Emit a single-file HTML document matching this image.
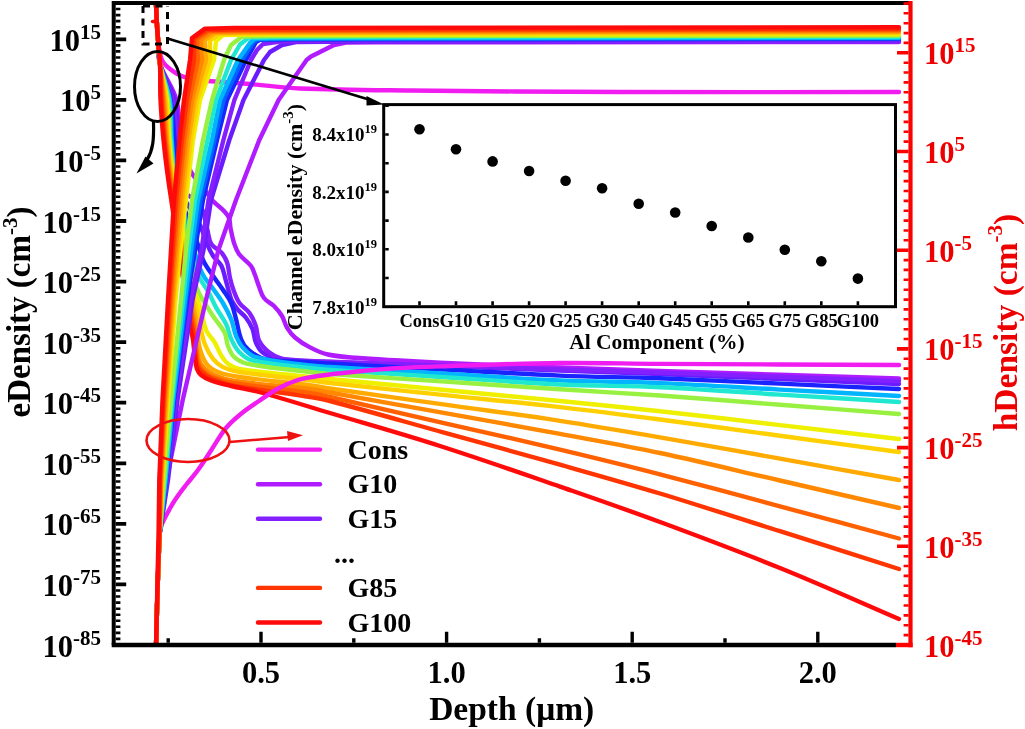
<!DOCTYPE html>
<html><head><meta charset="utf-8"><style>
html,body{margin:0;padding:0;background:#fff;}
body{width:1025px;height:729px;overflow:hidden;}
svg{display:block;}
</style></head><body>
<svg width="1025" height="729" viewBox="0 0 1025 729">
<defs><clipPath id="pc"><rect x="114" y="3" width="795" height="641"/></clipPath></defs>
<rect x="0" y="0" width="1025" height="729" fill="#fff"/>
<g clip-path="url(#pc)" fill="none" stroke-linecap="round" stroke-linejoin="round">
<path d="M156.0,4.0 C156.7,17.0 156.6,27.1 158.0,40.0 C158.8,47.3 159.2,53.2 162.0,60.0 C163.7,64.0 166.6,66.3 170.0,69.0 C173.7,72.1 177.0,74.1 181.5,76.0 C186.1,77.9 190.1,78.6 195.0,79.5 C199.6,80.4 203.3,80.6 208.0,81.0 C223.1,82.2 234.9,82.8 250.0,84.0 C268.0,85.5 281.9,87.8 300.0,88.5 C339.6,90.1 370.4,90.1 410.0,90.5 C485.6,91.3 544.4,91.8 620.0,92.0 C720.4,92.3 798.6,92.0 899.0,92.0" stroke="#f01cf0" stroke-width="4.4"/>
<path d="M156.0,4.0 C156.4,11.6 156.5,17.4 157.0,25.0 C157.4,32.2 157.9,37.8 158.5,45.0 C159.0,51.8 157.9,57.5 160.0,64.0 C164.4,77.5 172.8,86.2 176.5,100.0 C180.3,114.0 177.8,125.8 180.5,140.0 C182.6,151.1 185.0,159.8 190.0,170.0 C194.0,178.1 199.6,182.8 205.0,190.0 C207.9,193.9 209.7,197.4 213.0,201.0 C216.2,204.6 219.7,206.5 223.0,210.0 C225.5,212.6 227.6,214.7 229.0,218.0 C230.4,221.4 229.8,224.4 230.5,228.0 C231.6,233.4 232.3,237.7 234.0,243.0 C235.4,247.1 236.4,250.5 239.0,254.0 C242.6,258.9 247.3,261.1 251.0,266.0 C253.1,268.8 253.7,271.7 255.0,275.0 C256.6,279.1 257.4,282.4 259.0,286.5 C260.6,290.7 261.2,294.4 264.0,298.0 C266.8,301.7 270.7,302.7 274.0,306.0 C277.3,309.3 279.6,312.0 282.0,316.0 C284.3,319.9 284.6,323.7 287.0,327.6 C289.4,331.5 291.5,334.5 295.0,337.5 C299.9,341.7 304.2,344.4 310.0,347.4 C316.2,350.6 321.2,353.0 328.0,354.5 C337.9,356.7 345.9,357.0 356.0,357.8 C371.8,359.1 384.2,359.6 400.0,360.5 C428.8,362.1 451.2,363.2 480.0,364.5 C508.8,365.8 531.2,366.5 560.0,367.5 C596.0,368.8 624.0,369.8 660.0,371.0 C746.0,373.8 813.0,375.8 899.0,378.5" stroke="#b01cff" stroke-width="4.4"/>
<path d="M156.0,4.0 C156.4,11.6 156.5,17.4 157.0,25.0 C157.4,32.2 157.9,37.8 158.5,45.0 C159.0,51.8 158.1,57.4 160.0,64.0 C163.9,77.4 171.2,86.4 174.5,100.0 C177.9,114.1 177.8,125.5 178.5,140.0 C179.3,156.2 174.5,169.3 178.5,185.0 C182.5,200.8 192.9,210.3 200.0,225.0 C203.0,231.1 203.9,236.4 206.5,242.6 C208.6,247.4 210.2,251.3 213.0,255.7 C215.5,259.6 219.1,261.5 221.3,265.6 C223.7,270.0 224.0,274.0 225.4,278.8 C226.8,283.5 227.6,287.3 229.0,292.0 C230.0,295.3 230.5,297.9 232.0,301.0 C233.6,304.3 235.3,306.7 237.7,309.5 C240.4,312.7 243.5,314.3 246.0,317.7 C248.9,321.5 250.8,324.8 252.6,329.3 C254.4,333.8 253.9,337.9 255.8,342.4 C257.5,346.3 259.0,349.6 262.4,352.3 C266.5,355.5 270.5,357.0 275.6,358.0 C287.8,360.3 297.6,360.3 310.0,361.2 C317.2,361.7 322.8,361.7 330.0,362.0 C371.4,363.5 403.6,364.7 445.0,366.2 C486.4,367.8 518.6,369.0 560.0,370.5 C596.0,371.8 624.0,372.6 660.0,374.0 C703.2,375.7 736.8,377.2 780.0,379.0 C822.8,380.8 856.2,382.2 899.0,384.0" stroke="#6a1cff" stroke-width="4.4"/>
<path d="M156.0,4.0 C156.4,11.6 156.5,17.4 157.0,25.0 C157.4,32.2 157.9,37.8 158.5,45.0 C159.0,51.8 158.3,57.4 160.0,64.0 C163.4,77.3 169.6,86.6 172.5,100.0 C175.6,114.1 175.5,125.6 176.5,140.0 C177.6,156.2 172.7,169.8 178.2,185.0 C181.8,195.0 194.2,196.1 200.0,205.0 C205.0,212.7 204.7,220.6 207.3,229.4 C208.8,234.7 208.5,239.5 211.4,244.2 C213.8,248.2 218.3,248.9 221.3,252.4 C224.0,255.5 225.7,258.4 227.0,262.3 C228.9,267.7 228.7,272.4 230.0,278.0 C231.0,282.4 231.9,285.8 233.5,290.0 C235.3,294.8 236.5,298.8 239.4,303.0 C242.3,307.1 246.4,308.7 249.3,312.8 C252.4,317.1 254.1,321.0 255.8,326.0 C257.6,331.2 256.7,335.9 259.1,340.8 C261.6,345.7 264.7,348.9 269.0,352.3 C273.2,355.6 277.0,357.8 282.2,358.9 C292.0,361.0 300.0,360.4 310.0,361.0 C317.2,361.4 322.8,361.6 330.0,361.8 C371.4,363.2 403.6,364.3 445.0,365.6 C486.4,367.0 518.6,368.2 560.0,369.5 C596.0,370.6 624.0,371.3 660.0,372.5 C703.2,373.9 736.8,375.2 780.0,376.8 C822.8,378.3 856.2,379.5 899.0,381.0" stroke="#8420ff" stroke-width="4.4"/>
<path d="M156.0,4.0 C156.4,11.6 156.5,17.4 157.0,25.0 C157.4,32.2 157.9,37.8 158.5,45.0 C159.0,51.8 158.5,57.3 160.0,64.0 C162.9,77.2 168.0,86.7 170.5,100.0 C173.2,114.2 173.3,125.6 174.5,140.0 C175.8,156.2 173.8,169.2 177.3,185.0 C182.3,207.3 190.5,223.4 198.0,245.0 C200.1,251.1 201.1,256.2 204.0,262.0 C207.1,268.2 210.8,272.4 214.7,278.2 C217.6,282.4 220.1,285.5 222.9,289.8 C226.0,294.5 228.9,297.9 231.2,303.0 C233.7,308.6 234.5,313.5 236.1,319.4 C238.0,326.4 238.4,332.2 241.0,339.0 C242.6,343.0 244.3,346.2 247.6,349.0 C252.8,353.5 257.3,357.5 264.0,358.9 C280.2,362.3 293.4,361.0 310.0,362.2 C317.2,362.7 322.8,363.1 330.0,363.5 C371.4,365.8 403.6,367.4 445.0,369.6 C486.4,371.7 518.6,373.9 560.0,375.6 C596.0,377.1 624.0,377.0 660.0,378.3 C703.2,379.9 736.8,381.7 780.0,383.6 C822.8,385.6 856.2,387.1 899.0,389.0" stroke="#1a24ff" stroke-width="4.4"/>
<path d="M156.0,4.0 C156.4,11.6 156.5,17.4 157.0,25.0 C157.4,32.2 157.9,37.8 158.5,45.0 C159.0,51.8 158.6,57.3 160.0,64.0 C162.7,77.2 167.8,86.7 169.9,100.0 C172.1,114.2 170.6,125.6 171.8,140.0 C173.0,156.2 173.1,169.1 176.5,185.0 C182.3,212.4 189.1,233.1 197.0,260.0 C198.6,265.6 200.2,269.9 203.0,275.0 C205.4,279.5 208.4,282.3 211.4,286.5 C215.6,292.4 219.2,296.8 222.9,303.0 C226.3,308.7 228.7,313.3 231.2,319.4 C233.5,325.1 233.7,330.1 236.0,335.8 C237.8,340.3 239.4,343.9 242.7,347.4 C246.7,351.7 250.1,355.7 255.8,357.2 C274.9,362.3 290.4,362.9 310.0,365.5 C317.2,366.4 322.8,366.6 330.0,367.0 C371.4,369.5 403.6,371.3 445.0,373.7 C486.4,376.1 518.6,378.6 560.0,380.4 C596.0,382.0 624.0,381.6 660.0,383.1 C703.2,384.9 736.8,387.2 780.0,389.6 C822.8,391.9 856.2,393.7 899.0,396.0" stroke="#00b4ff" stroke-width="4.4"/>
<path d="M156.0,4.0 C156.4,11.6 156.5,17.4 157.0,25.0 C157.4,32.2 157.9,37.8 158.5,45.0 C159.0,51.8 158.7,57.3 160.0,64.0 C162.5,77.1 167.0,86.8 168.8,100.0 C170.9,114.3 169.7,125.6 170.8,140.0 C172.1,156.2 172.6,169.0 175.7,185.0 C181.6,215.9 187.8,239.6 196.0,270.0 C197.3,274.7 199.6,277.8 202.0,282.0 C204.0,285.5 206.2,287.9 208.1,291.4 C211.3,297.2 213.1,302.1 216.3,307.9 C219.6,313.9 223.2,318.1 226.2,324.3 C228.6,329.4 228.8,334.0 231.2,339.1 C233.6,344.2 235.4,348.3 239.4,352.3 C243.4,356.3 247.1,359.3 252.6,360.5 C272.9,365.0 289.3,365.5 310.0,368.0 C317.2,368.9 322.8,369.5 330.0,370.0 C371.4,372.8 403.6,374.6 445.0,377.2 C486.4,379.9 518.6,382.6 560.0,384.5 C596.0,386.2 624.0,385.5 660.0,387.2 C703.2,389.2 736.8,391.9 780.0,394.6 C822.8,397.3 856.2,399.3 899.0,402.0" stroke="#20e8d0" stroke-width="4.4"/>
<path d="M156.0,4.0 C156.4,11.6 156.5,17.4 157.0,25.0 C157.4,32.2 157.9,37.8 158.5,45.0 C159.0,51.8 158.9,57.2 160.0,64.0 C162.2,77.1 166.1,86.9 167.8,100.0 C169.7,114.3 168.7,125.6 169.9,140.0 C171.3,156.2 172.0,168.9 174.8,185.0 C181.1,220.5 187.0,247.9 195.0,283.0 C196.0,287.6 197.9,290.8 200.0,295.0 C201.5,298.0 203.0,300.1 204.8,303.0 C207.7,307.7 209.9,311.4 213.0,316.0 C217.1,322.1 221.3,326.1 224.6,332.6 C226.8,336.9 226.1,341.2 227.9,345.7 C229.7,350.1 230.9,354.0 234.4,357.2 C238.3,360.8 242.4,362.8 247.6,363.8 C269.8,368.2 287.5,369.2 310.0,372.0 C317.2,372.9 322.8,373.5 330.0,374.0 C371.4,377.0 403.6,378.9 445.0,381.6 C486.4,384.4 518.6,386.6 560.0,389.3 C596.0,391.6 624.0,393.0 660.0,395.5 C703.2,398.5 736.8,401.4 780.0,404.8 C822.8,408.1 856.2,410.7 899.0,414.0" stroke="#98f040" stroke-width="4.4"/>
<path d="M156.0,4.0 C156.4,11.6 156.5,17.4 157.0,25.0 C157.4,32.2 157.9,37.8 158.5,45.0 C159.0,51.8 159.0,57.2 160.0,64.0 C162.0,77.0 165.2,86.9 166.8,100.0 C168.4,114.3 167.8,125.6 169.0,140.0 C170.4,156.2 171.3,168.9 174.0,185.0 C180.3,223.0 186.1,252.3 194.0,290.0 C194.8,293.8 196.8,296.3 198.0,300.0 C199.5,304.5 200.2,308.2 201.5,312.8 C203.3,319.3 203.7,324.7 206.5,330.9 C208.6,335.5 212.1,338.0 214.7,342.4 C217.4,347.0 218.5,351.1 221.3,355.6 C223.3,358.8 224.8,361.6 227.9,363.8 C231.5,366.5 234.9,368.1 239.4,368.8 C264.7,372.9 284.6,374.1 310.0,377.0 C317.2,377.8 322.8,378.3 330.0,379.0 C371.4,383.0 403.6,386.0 445.0,390.0 C486.4,394.0 518.6,396.9 560.0,401.0 C596.0,404.6 624.0,407.3 660.0,411.2 C703.2,415.9 736.8,420.1 780.0,425.1 C822.8,430.1 856.2,434.0 899.0,439.0" stroke="#eef000" stroke-width="4.4"/>
<path d="M156.0,4.0 C156.4,11.6 156.5,17.4 157.0,25.0 C157.4,32.2 157.9,37.8 158.5,45.0 C159.0,51.8 159.1,57.2 160.0,64.0 C161.7,77.0 164.3,87.0 165.7,100.0 C167.2,114.3 166.8,125.6 168.1,140.0 C169.5,156.2 170.6,168.9 173.2,185.0 C179.9,226.5 186.1,258.7 194.0,300.0 C194.7,303.7 196.1,306.3 197.0,310.0 C198.2,315.1 198.7,319.2 199.9,324.3 C201.5,331.4 202.2,337.2 204.8,344.0 C207.0,349.7 209.2,354.1 213.0,358.9 C215.9,362.5 218.8,365.0 222.9,367.1 C228.5,369.9 233.3,371.1 239.4,372.0 C264.7,375.8 284.6,377.2 310.0,380.3 C317.2,381.2 322.8,382.2 330.0,383.0 C371.4,387.5 403.6,390.7 445.0,395.1 C486.4,399.4 518.6,402.4 560.0,407.1 C596.0,411.2 624.0,414.8 660.0,419.5 C703.2,425.1 736.8,429.9 780.0,435.8 C822.8,441.6 856.2,446.1 899.0,452.0" stroke="#ffd000" stroke-width="4.4"/>
<path d="M156.0,4.0 C156.4,11.6 156.5,17.4 157.0,25.0 C157.4,32.2 157.9,37.8 158.5,45.0 C159.0,51.8 159.2,57.2 160.0,64.0 C161.5,77.0 163.4,87.0 164.7,100.0 C166.0,114.4 165.9,125.6 167.2,140.0 C168.6,156.2 169.8,168.9 172.3,185.0 C179.5,230.1 186.1,265.0 194.0,310.0 C194.6,313.6 195.5,316.4 196.0,320.0 C196.7,324.5 196.8,328.1 197.4,332.6 C198.2,338.5 198.2,343.3 199.9,349.0 C201.5,354.6 202.9,359.2 206.5,363.8 C209.6,367.8 213.3,370.1 218.0,372.0 C225.3,374.9 231.6,375.9 239.4,377.0 C264.7,380.6 284.6,382.0 310.0,385.2 C317.2,386.1 322.8,387.5 330.0,388.5 C371.4,394.5 403.6,398.8 445.0,404.6 C486.4,410.5 518.7,414.5 560.0,420.8 C596.1,426.3 624.0,431.1 660.0,437.3 C703.2,444.7 736.8,450.9 780.0,458.6 C822.8,466.3 856.2,472.3 899.0,480.0" stroke="#ffaa00" stroke-width="4.4"/>
<path d="M156.0,4.0 C156.4,11.6 156.5,17.4 157.0,25.0 C157.4,32.2 157.9,37.8 158.5,45.0 C159.0,51.8 159.4,57.2 160.0,64.0 C161.2,77.0 162.6,87.0 163.6,100.0 C164.8,114.4 164.9,125.6 166.2,140.0 C167.8,156.2 169.0,168.9 171.5,185.0 C178.7,231.9 185.1,268.2 193.0,315.0 C193.6,318.6 194.6,321.4 195.0,325.0 C195.8,332.2 195.7,337.8 196.5,345.0 C197.1,350.4 197.3,354.8 199.0,360.0 C200.1,363.2 201.6,365.6 204.0,368.0 C207.1,371.1 209.9,373.3 214.0,375.0 C221.3,378.0 227.2,379.9 235.0,381.0 C261.9,384.9 283.0,385.7 310.0,389.0 C317.3,389.9 322.8,391.2 330.0,392.5 C371.4,399.9 403.6,405.7 445.0,413.2 C486.4,420.7 518.6,426.2 560.0,433.9 C596.0,440.6 624.1,445.4 660.0,453.0 C703.4,462.2 736.8,470.6 780.0,480.5 C822.8,490.4 856.2,498.1 899.0,508.0" stroke="#ff8800" stroke-width="4.4"/>
<path d="M156.0,4.0 C156.4,11.6 156.5,17.4 157.0,25.0 C157.4,32.2 157.9,37.8 158.5,45.0 C159.0,51.8 159.5,57.2 160.0,64.0 C161.0,77.0 161.7,87.0 162.6,100.0 C163.6,114.4 164.0,125.6 165.3,140.0 C166.9,156.2 168.2,168.9 170.7,185.0 C178.0,233.7 184.5,271.4 192.5,320.0 C193.1,323.6 194.1,326.4 194.5,330.0 C195.3,337.2 195.2,342.8 196.0,350.0 C196.5,354.7 196.6,358.5 198.0,363.0 C199.0,366.0 200.3,368.3 202.5,370.5 C205.4,373.4 208.2,375.4 212.0,377.0 C219.3,380.0 225.2,381.7 233.0,383.0 C260.6,387.5 282.3,389.0 310.0,393.0 C317.3,394.0 322.8,395.4 330.0,397.0 C371.4,406.3 403.6,413.8 445.0,423.3 C486.4,432.8 518.7,439.8 560.0,449.6 C596.1,458.2 624.1,465.0 660.0,474.3 C703.3,485.5 736.8,494.8 780.0,506.4 C822.9,517.9 856.2,526.9 899.0,538.5" stroke="#ff6000" stroke-width="4.4"/>
<path d="M156.0,4.0 C156.4,11.6 156.5,17.4 157.0,25.0 C157.4,32.2 157.9,37.8 158.5,45.0 C159.0,51.8 159.6,57.1 160.0,64.0 C160.7,77.0 160.8,87.0 161.5,100.0 C162.4,114.4 163.0,125.6 164.4,140.0 C166.0,156.2 167.4,168.9 169.8,185.0 C177.4,235.5 183.9,274.6 192.0,325.0 C192.6,328.6 193.6,331.4 194.0,335.0 C194.8,342.2 194.7,347.8 195.5,355.0 C196.0,359.0 196.2,362.2 197.5,366.0 C198.4,368.4 199.6,370.3 201.5,372.0 C204.7,374.9 207.5,376.9 211.4,378.6 C218.3,381.7 223.8,383.8 231.2,385.2 C259.4,390.5 281.7,392.5 310.0,397.0 C317.3,398.2 322.9,399.1 330.0,401.0 C371.5,412.0 403.6,421.4 445.0,432.9 C486.4,444.3 518.7,453.0 560.0,464.7 C596.1,474.9 624.1,482.7 660.0,493.5 C703.3,506.6 736.8,517.6 780.0,531.2 C822.9,544.8 856.2,555.4 899.0,569.0" stroke="#ff3400" stroke-width="4.4"/>
<path d="M156.0,4.0 C156.4,11.6 156.5,17.4 157.0,25.0 C157.4,32.2 157.9,37.8 158.5,45.0 C159.0,51.8 159.8,57.1 160.0,64.0 C160.5,77.0 159.9,87.1 160.5,100.0 C161.2,114.4 162.1,125.6 163.5,140.0 C165.1,156.2 166.7,168.8 169.0,185.0 C176.6,237.3 182.9,277.8 191.0,330.0 C191.6,333.6 192.5,336.4 193.0,340.0 C193.9,346.5 194.1,351.5 195.0,358.0 C195.5,362.0 195.7,365.2 197.0,369.0 C197.9,371.4 199.0,373.4 201.0,375.0 C204.2,377.6 207.1,379.1 211.0,380.5 C218.0,383.1 223.7,384.3 231.0,386.0 C241.0,388.4 249.1,389.3 259.0,392.0 C284.7,399.0 304.5,405.4 330.0,413.0 C369.6,424.8 400.6,433.4 440.0,446.0 C483.4,459.9 516.9,471.7 560.0,486.6 C596.1,499.1 624.2,508.7 660.0,522.0 C703.4,538.1 737.1,550.6 780.0,568.0 C823.2,585.5 856.2,600.6 899.0,619.0" stroke="#ff0a0a" stroke-width="4.4"/>
<path d="M152.5,21.5 L156.5,21.5" stroke="#ff0a0a" stroke-width="3.5"/>
</g>
<g clip-path="url(#pc)" fill="none" stroke-linecap="round" stroke-linejoin="round">
<path d="M156.0,648.0 C156.5,627.1 156.9,610.9 157.5,590.0 C158.1,570.2 158.2,554.8 159.5,535.0 C159.8,530.9 160.6,527.8 162.0,524.0 C163.7,519.5 165.7,516.2 168.0,512.0 C170.4,507.6 172.2,504.2 175.0,500.0 C178.7,494.4 181.9,490.3 186.0,485.0 C190.2,479.5 194.0,475.6 198.0,470.0 C203.3,462.6 207.0,456.6 212.0,449.0 C217.0,441.4 220.2,435.0 226.0,428.0 C231.1,421.9 235.9,418.0 242.0,413.0 C247.8,408.3 252.8,405.2 259.0,401.0 C266.1,396.2 271.4,392.1 279.0,388.0 C285.5,384.5 290.9,382.2 298.0,380.0 C305.0,377.8 310.7,377.0 318.0,376.0 C332.0,374.0 342.9,372.9 357.0,371.5 C372.5,370.0 384.5,368.9 400.0,368.0 C418.0,366.9 432.0,366.6 450.0,366.0 C489.6,364.8 520.4,363.4 560.0,363.0 C596.0,362.6 624.0,363.7 660.0,363.9 C746.0,364.4 813.0,364.6 899.0,365.0" stroke="#f01cf0" stroke-width="4.4"/>
<path d="M156.0,648.0 L157.5,590.0 L159.5,535.0 L166.5,480.0 L182.7,400.0 L206.0,300.0 L218.4,250.0 L236.0,200.0 L259.3,140.0 L278.6,100.0 L306.6,60.0 L311.0,56.5 L334.0,45.0 L346.0,42.6 L376.0,42.3 L899.0,42.0" stroke="#b01cff" stroke-width="4.4"/>
<path d="M156.0,648.0 L157.5,590.0 L159.5,535.0 L168.0,480.0 L177.5,400.0 L192.5,300.0 L203.5,250.0 L211.0,200.0 L229.3,140.0 L243.5,100.0 L264.0,60.0 L270.0,52.0 L282.0,45.0 L296.0,42.1 L326.0,41.7 L899.0,41.2" stroke="#6a1cff" stroke-width="4.4"/>
<path d="M156.0,648.0 L157.5,590.0 L159.5,535.0 L167.0,480.0 L176.0,400.0 L190.5,300.0 L201.5,250.0 L208.5,200.0 L223.4,140.0 L234.4,100.0 L251.0,60.0 L257.0,50.0 L263.0,44.0 L280.0,41.6 L310.0,41.1 L899.0,40.6" stroke="#8420ff" stroke-width="4.4"/>
<path d="M156.0,648.0 L157.5,590.0 L159.5,535.0 L166.0,480.0 L174.0,400.0 L187.2,300.0 L195.0,250.0 L203.0,200.0 L217.0,140.0 L227.0,100.0 L246.0,60.0 L256.0,42.0 L260.0,39.8 L290.0,39.4 L899.0,39.0" stroke="#1a24ff" stroke-width="4.4"/>
<path d="M156.0,648.0 L157.5,590.0 L159.5,535.0 L165.8,480.0 L173.5,400.0 L186.1,300.0 L193.0,250.0 L200.5,200.0 L214.5,140.0 L223.5,100.0 L242.0,60.0 L253.0,42.5 L257.5,39.2 L287.5,38.8 L899.0,38.4" stroke="#0064ff" stroke-width="4.4"/>
<path d="M156.0,648.0 L157.5,590.0 L159.5,535.0 L165.5,480.0 L173.0,400.0 L185.0,300.0 L191.0,250.0 L198.0,200.0 L212.0,140.0 L220.0,100.0 L238.0,60.0 L250.0,43.0 L255.0,38.5 L285.0,38.1 L899.0,37.8" stroke="#00b4ff" stroke-width="4.4"/>
<path d="M156.0,648.0 L157.5,590.0 L159.5,535.0 L164.8,480.0 L172.0,400.0 L183.0,300.0 L188.5,250.0 L195.0,200.0 L207.5,140.0 L216.0,100.0 L231.0,60.0 L240.0,44.5 L249.0,37.5 L279.0,37.1 L899.0,36.8" stroke="#20e8d0" stroke-width="4.4"/>
<path d="M156.0,648.0 L157.5,590.0 L159.5,535.0 L164.0,480.0 L171.0,400.0 L181.0,300.0 L186.0,250.0 L192.0,200.0 L203.0,140.0 L212.0,100.0 L224.0,60.0 L231.0,45.0 L242.0,36.5 L272.0,36.0 L899.0,35.6" stroke="#98f040" stroke-width="4.4"/>
<path d="M156.0,648.0 L157.5,590.0 L159.5,535.0 L162.5,480.0 L168.0,400.0 L175.5,300.0 L180.4,250.0 L186.0,200.0 L193.0,140.0 L200.0,100.0 L214.0,60.0 L216.0,41.0 L223.0,35.0 L253.0,34.6 L899.0,34.2" stroke="#eef000" stroke-width="4.4"/>
<path d="M156.0,648.0 L157.5,590.0 L159.5,535.0 L162.0,480.0 L167.1,400.0 L174.2,300.0 L178.8,250.0 L184.0,200.0 L190.8,140.0 L197.3,100.0 L210.0,60.0 L210.0,40.5 L219.0,34.0 L249.0,33.5 L899.0,33.0" stroke="#ffd000" stroke-width="4.4"/>
<path d="M156.0,648.0 L157.5,590.0 L159.5,535.0 L161.4,480.0 L166.2,400.0 L173.0,300.0 L177.3,250.0 L182.0,200.0 L188.5,140.0 L194.7,100.0 L206.0,60.0 L205.0,40.0 L215.0,33.0 L245.0,32.5 L899.0,32.0" stroke="#ffaa00" stroke-width="4.4"/>
<path d="M156.0,648.0 L157.5,590.0 L159.5,535.0 L160.9,480.0 L165.2,400.0 L171.8,300.0 L175.7,250.0 L180.0,200.0 L186.2,140.0 L192.0,100.0 L202.0,60.0 L201.0,39.5 L212.0,32.0 L242.0,31.5 L899.0,31.0" stroke="#ff8800" stroke-width="4.4"/>
<path d="M156.0,648.0 L157.5,590.0 L159.5,535.0 L160.4,480.0 L164.3,400.0 L170.5,300.0 L174.1,250.0 L178.0,200.0 L184.0,140.0 L189.3,100.0 L198.0,60.0 L197.0,39.0 L209.0,31.0 L239.0,30.5 L899.0,30.0" stroke="#ff6000" stroke-width="4.4"/>
<path d="M156.0,648.0 L157.5,590.0 L159.5,535.0 L159.8,480.0 L163.4,400.0 L169.2,300.0 L172.6,250.0 L176.0,200.0 L181.8,140.0 L186.7,100.0 L194.0,60.0 L194.0,38.5 L207.0,30.0 L237.0,29.5 L899.0,29.0" stroke="#ff3400" stroke-width="4.4"/>
<path d="M156.0,648.0 L158.6,530.0 L159.3,480.0 L162.5,400.0 L168.0,300.0 L171.0,250.0 L174.0,200.0 L179.5,140.0 L184.0,100.0 L190.0,60.0 L192.0,38.0 L205.0,28.6 L235.0,27.9 L899.0,27.2" stroke="#ff0a0a" stroke-width="4.4"/>
</g>
<g fill="none" stroke-linecap="butt">
<path d="M113.7,645 L113.7,3 L910.5,3" stroke="#000" stroke-width="4"/>
<path d="M111.7,645 L896,645" stroke="#000" stroke-width="4.4"/>
<path d="M910.5,1 L910.5,647.2" stroke="#ff0000" stroke-width="4.2"/>
<path d="M896,645 L912.6,645" stroke="#ff0000" stroke-width="4.4"/>
<path d="M115.7,638.9 L120.4,638.9 M115.7,632.9 L120.4,632.9 M115.7,626.8 L120.4,626.8 M115.7,620.8 L120.4,620.8 M115.7,614.7 L120.4,614.7 M115.7,608.7 L120.4,608.7 M115.7,602.6 L120.4,602.6 M115.7,596.5 L120.4,596.5 M115.7,590.5 L120.4,590.5 M115.7,578.4 L120.4,578.4 M115.7,572.3 L120.4,572.3 M115.7,566.3 L120.4,566.3 M115.7,560.2 L120.4,560.2 M115.7,554.1 L120.4,554.1 M115.7,548.1 L120.4,548.1 M115.7,542.0 L120.4,542.0 M115.7,536.0 L120.4,536.0 M115.7,529.9 L120.4,529.9 M115.7,517.8 L120.4,517.8 M115.7,511.7 L120.4,511.7 M115.7,505.7 L120.4,505.7 M115.7,499.6 L120.4,499.6 M115.7,493.6 L120.4,493.6 M115.7,487.5 L120.4,487.5 M115.7,481.5 L120.4,481.5 M115.7,475.4 L120.4,475.4 M115.7,469.3 L120.4,469.3 M115.7,457.2 L120.4,457.2 M115.7,451.2 L120.4,451.2 M115.7,445.1 L120.4,445.1 M115.7,439.1 L120.4,439.1 M115.7,433.0 L120.4,433.0 M115.7,426.9 L120.4,426.9 M115.7,420.9 L120.4,420.9 M115.7,414.8 L120.4,414.8 M115.7,408.8 L120.4,408.8 M115.7,396.7 L120.4,396.7 M115.7,390.6 L120.4,390.6 M115.7,384.5 L120.4,384.5 M115.7,378.5 L120.4,378.5 M115.7,372.4 L120.4,372.4 M115.7,366.4 L120.4,366.4 M115.7,360.3 L120.4,360.3 M115.7,354.3 L120.4,354.3 M115.7,348.2 L120.4,348.2 M115.7,336.1 L120.4,336.1 M115.7,330.0 L120.4,330.0 M115.7,324.0 L120.4,324.0 M115.7,317.9 L120.4,317.9 M115.7,311.9 L120.4,311.9 M115.7,305.8 L120.4,305.8 M115.7,299.8 L120.4,299.8 M115.7,293.7 L120.4,293.7 M115.7,287.6 L120.4,287.6 M115.7,275.5 L120.4,275.5 M115.7,269.5 L120.4,269.5 M115.7,263.4 L120.4,263.4 M115.7,257.4 L120.4,257.4 M115.7,251.3 L120.4,251.3 M115.7,245.2 L120.4,245.2 M115.7,239.2 L120.4,239.2 M115.7,233.1 L120.4,233.1 M115.7,227.1 L120.4,227.1 M115.7,215.0 L120.4,215.0 M115.7,208.9 L120.4,208.9 M115.7,202.8 L120.4,202.8 M115.7,196.8 L120.4,196.8 M115.7,190.7 L120.4,190.7 M115.7,184.7 L120.4,184.7 M115.7,178.6 L120.4,178.6 M115.7,172.6 L120.4,172.6 M115.7,166.5 L120.4,166.5 M115.7,154.4 L120.4,154.4 M115.7,148.3 L120.4,148.3 M115.7,142.3 L120.4,142.3 M115.7,136.2 L120.4,136.2 M115.7,130.2 L120.4,130.2 M115.7,124.1 L120.4,124.1 M115.7,118.0 L120.4,118.0 M115.7,112.0 L120.4,112.0 M115.7,105.9 L120.4,105.9 M115.7,93.8 L120.4,93.8 M115.7,87.8 L120.4,87.8 M115.7,81.7 L120.4,81.7 M115.7,75.6 L120.4,75.6 M115.7,69.6 L120.4,69.6 M115.7,63.5 L120.4,63.5 M115.7,57.5 L120.4,57.5 M115.7,51.4 L120.4,51.4 M115.7,45.4 L120.4,45.4 M115.7,33.2 L120.4,33.2 M115.7,27.2 L120.4,27.2 M115.7,21.1 L120.4,21.1 M115.7,15.1 L120.4,15.1 M115.7,9.0 L120.4,9.0" stroke="#000" stroke-width="2.6"/>
<path d="M115.7,584.4 L126.2,584.4 M115.7,523.9 L126.2,523.9 M115.7,463.3 L126.2,463.3 M115.7,402.7 L126.2,402.7 M115.7,342.1 L126.2,342.1 M115.7,281.6 L126.2,281.6 M115.7,221.0 L126.2,221.0 M115.7,160.4 L126.2,160.4 M115.7,99.9 L126.2,99.9 M115.7,39.3 L126.2,39.3" stroke="#000" stroke-width="3.8"/>
<path d="M908.5,635.1 L903.6,635.1 M908.5,625.3 L903.6,625.3 M908.5,615.4 L903.6,615.4 M908.5,605.5 L903.6,605.5 M908.5,595.6 L903.6,595.6 M908.5,585.8 L903.6,585.8 M908.5,575.9 L903.6,575.9 M908.5,566.0 L903.6,566.0 M908.5,556.2 L903.6,556.2 M908.5,536.4 L903.6,536.4 M908.5,526.6 L903.6,526.6 M908.5,516.7 L903.6,516.7 M908.5,506.8 L903.6,506.8 M908.5,497.0 L903.6,497.0 M908.5,487.1 L903.6,487.1 M908.5,477.2 L903.6,477.2 M908.5,467.3 L903.6,467.3 M908.5,457.5 L903.6,457.5 M908.5,437.7 L903.6,437.7 M908.5,427.9 L903.6,427.9 M908.5,418.0 L903.6,418.0 M908.5,408.1 L903.6,408.1 M908.5,398.2 L903.6,398.2 M908.5,388.4 L903.6,388.4 M908.5,378.5 L903.6,378.5 M908.5,368.6 L903.6,368.6 M908.5,358.8 L903.6,358.8 M908.5,339.0 L903.6,339.0 M908.5,329.2 L903.6,329.2 M908.5,319.3 L903.6,319.3 M908.5,309.4 L903.6,309.4 M908.5,299.6 L903.6,299.6 M908.5,289.7 L903.6,289.7 M908.5,279.8 L903.6,279.8 M908.5,269.9 L903.6,269.9 M908.5,260.1 L903.6,260.1 M908.5,240.3 L903.6,240.3 M908.5,230.5 L903.6,230.5 M908.5,220.6 L903.6,220.6 M908.5,210.7 L903.6,210.7 M908.5,200.9 L903.6,200.9 M908.5,191.0 L903.6,191.0 M908.5,181.1 L903.6,181.1 M908.5,171.2 L903.6,171.2 M908.5,161.4 L903.6,161.4 M908.5,141.6 L903.6,141.6 M908.5,131.8 L903.6,131.8 M908.5,121.9 L903.6,121.9 M908.5,112.0 L903.6,112.0 M908.5,102.2 L903.6,102.2 M908.5,92.3 L903.6,92.3 M908.5,82.4 L903.6,82.4 M908.5,72.5 L903.6,72.5 M908.5,62.7 L903.6,62.7 M908.5,42.9 L903.6,42.9 M908.5,33.1 L903.6,33.1 M908.5,23.2 L903.6,23.2 M908.5,13.3 L903.6,13.3 M908.5,3.5 L903.6,3.5" stroke="#ff0000" stroke-width="2.6"/>
<path d="M908.5,546.3 L897,546.3 M908.5,447.6 L897,447.6 M908.5,348.9 L897,348.9 M908.5,250.2 L897,250.2 M908.5,151.5 L897,151.5 M908.5,52.8 L897,52.8" stroke="#ff0000" stroke-width="3.6"/>
<path d="M168.2,642.8 L168.2,638.3 M261.0,642.8 L261.0,631.8 M353.8,642.8 L353.8,638.3 M446.6,642.8 L446.6,631.8 M539.4,642.8 L539.4,638.3 M632.2,642.8 L632.2,631.8 M725.0,642.8 L725.0,638.3 M817.8,642.8 L817.8,631.8" stroke="#000" stroke-width="3.4"/>
</g>
<g font-family="'Liberation Serif','Times New Roman',serif" font-weight="bold">
<text x="101" y="656.5" text-anchor="end" font-size="30.5">10<tspan font-size="21" dy="-12">-85</tspan></text>
<text x="101" y="595.9" text-anchor="end" font-size="30.5">10<tspan font-size="21" dy="-12">-75</tspan></text>
<text x="101" y="535.4" text-anchor="end" font-size="30.5">10<tspan font-size="21" dy="-12">-65</tspan></text>
<text x="101" y="474.8" text-anchor="end" font-size="30.5">10<tspan font-size="21" dy="-12">-55</tspan></text>
<text x="101" y="414.2" text-anchor="end" font-size="30.5">10<tspan font-size="21" dy="-12">-45</tspan></text>
<text x="101" y="353.6" text-anchor="end" font-size="30.5">10<tspan font-size="21" dy="-12">-35</tspan></text>
<text x="101" y="293.1" text-anchor="end" font-size="30.5">10<tspan font-size="21" dy="-12">-25</tspan></text>
<text x="101" y="232.5" text-anchor="end" font-size="30.5">10<tspan font-size="21" dy="-12">-15</tspan></text>
<text x="101" y="171.9" text-anchor="end" font-size="30.5">10<tspan font-size="21" dy="-12">-5</tspan></text>
<text x="101" y="111.4" text-anchor="end" font-size="30.5">10<tspan font-size="21" dy="-12">5</tspan></text>
<text x="101" y="50.8" text-anchor="end" font-size="30.5">10<tspan font-size="21" dy="-12">15</tspan></text>
<text x="924" y="656.5" fill="#ee0000" font-size="30.5">10<tspan font-size="21" dy="-12">-45</tspan></text>
<text x="924" y="557.8" fill="#ee0000" font-size="30.5">10<tspan font-size="21" dy="-12">-35</tspan></text>
<text x="924" y="459.1" fill="#ee0000" font-size="30.5">10<tspan font-size="21" dy="-12">-25</tspan></text>
<text x="924" y="360.4" fill="#ee0000" font-size="30.5">10<tspan font-size="21" dy="-12">-15</tspan></text>
<text x="924" y="261.7" fill="#ee0000" font-size="30.5">10<tspan font-size="21" dy="-12">-5</tspan></text>
<text x="924" y="163.0" fill="#ee0000" font-size="30.5">10<tspan font-size="21" dy="-12">5</tspan></text>
<text x="924" y="64.3" fill="#ee0000" font-size="30.5">10<tspan font-size="21" dy="-12">15</tspan></text>
<text x="261.0" y="682.5" text-anchor="middle" font-size="30.5">0.5</text>
<text x="446.6" y="682.5" text-anchor="middle" font-size="30.5">1.0</text>
<text x="632.2" y="682.5" text-anchor="middle" font-size="30.5">1.5</text>
<text x="817.8" y="682.5" text-anchor="middle" font-size="30.5">2.0</text>
<text x="511.7" y="720" text-anchor="middle" font-size="33.5">Depth (μm)</text>
<text transform="translate(30,312) rotate(-90)" text-anchor="middle" font-size="33">eDensity (cm<tspan font-size="21" dy="-13">-3</tspan><tspan dy="13">)</tspan></text>
<text transform="translate(1016.5,322.5) rotate(-90)" text-anchor="middle" font-size="33.5" fill="#ee0000">hDensity (cm<tspan font-size="21" dy="-15">-3</tspan><tspan dy="15">)</tspan></text>
</g>
<g font-family="'Liberation Serif','Times New Roman',serif" font-weight="bold" font-size="28">
<path d="M258,449.6 L320,449.6" stroke="#f01cf0" stroke-width="4.4" stroke-linecap="round"/>
<text x="347.5" y="458.6">Cons</text>
<path d="M258,484.2 L320,484.2" stroke="#b01cff" stroke-width="4.4" stroke-linecap="round"/>
<text x="347.5" y="493.2">G10</text>
<path d="M258,518.8 L320,518.8" stroke="#8420ff" stroke-width="4.4" stroke-linecap="round"/>
<text x="347.5" y="527.8">G15</text>
<path d="M258,587.9 L320,587.9" stroke="#ff3400" stroke-width="4.4" stroke-linecap="round"/>
<text x="347.5" y="596.9">G85</text>
<path d="M258,622.5 L320,622.5" stroke="#ff0a0a" stroke-width="4.4" stroke-linecap="round"/>
<text x="347.5" y="631.5">G100</text>
<text x="334" y="563.3">...</text>
</g>
<g fill="none" stroke="#000" stroke-width="3">
<path d="M143,6 L143,44 L167.5,44 L167.5,6" stroke-dasharray="7,5.5"/>
<path d="M143,6 L167.5,6" stroke-dasharray="7,5.5"/>
<path d="M167.5,38.5 L372,100.5" stroke-width="2.6"/>
<ellipse cx="157.5" cy="86.5" rx="23" ry="35" stroke-width="3"/>
<path d="M153.5,122 C154,140 153,150 147,160" stroke-width="3.2"/>
</g>
<path d="M384,104.5 L366.5,96 L366.5,105.5 Z" fill="#000"/>
<path d="M136.5,173.5 L145.5,156.5 L153.5,163.5 Z" fill="#000"/>
<ellipse cx="188" cy="440.5" rx="41.5" ry="21.5" fill="none" stroke="#ee1111" stroke-width="2.6"/>
<path d="M229.5,442 L290,437" fill="none" stroke="#ee1111" stroke-width="2.6"/>
<path d="M303,435.2 L287,431 L288,441 Z" fill="#ee1111"/>
<rect x="383.7" y="104.6" width="511.8" height="202.1" fill="#fff" stroke="#000" stroke-width="3"/>
<path d="M385.2,278.0 L388.7,278.0 M385.2,249.3 L388.7,249.3 M385.2,220.6 L388.7,220.6 M385.2,191.9 L388.7,191.9 M385.2,163.2 L388.7,163.2 M385.2,134.5 L388.7,134.5 M385.2,105.8 L388.7,105.8 M419.5,305.2 L419.5,301.2 M456.0,305.2 L456.0,301.2 M492.6,305.2 L492.6,301.2 M529.1,305.2 L529.1,301.2 M565.6,305.2 L565.6,301.2 M602.1,305.2 L602.1,301.2 M638.7,305.2 L638.7,301.2 M675.2,305.2 L675.2,301.2 M711.7,305.2 L711.7,301.2 M748.3,305.2 L748.3,301.2 M784.8,305.2 L784.8,301.2 M821.3,305.2 L821.3,301.2 M857.9,305.2 L857.9,301.2" stroke="#000" stroke-width="2.6" fill="none"/>
<circle cx="419.5" cy="129.2" r="5.3" fill="#000"/>
<circle cx="456.0" cy="149.2" r="5.3" fill="#000"/>
<circle cx="492.6" cy="161.4" r="5.3" fill="#000"/>
<circle cx="529.1" cy="171" r="5.3" fill="#000"/>
<circle cx="565.6" cy="180.7" r="5.3" fill="#000"/>
<circle cx="602.1" cy="188.3" r="5.3" fill="#000"/>
<circle cx="638.7" cy="203.7" r="5.3" fill="#000"/>
<circle cx="675.2" cy="212.5" r="5.3" fill="#000"/>
<circle cx="711.7" cy="226" r="5.3" fill="#000"/>
<circle cx="748.3" cy="237.5" r="5.3" fill="#000"/>
<circle cx="784.8" cy="249.8" r="5.3" fill="#000"/>
<circle cx="821.3" cy="261.3" r="5.3" fill="#000"/>
<circle cx="857.9" cy="278.6" r="5.3" fill="#000"/>
<g font-family="'Liberation Serif','Times New Roman',serif" font-weight="bold" font-size="18.5">
<text x="419.5" y="327.2" text-anchor="middle">Cons</text>
<text x="456.0" y="327.2" text-anchor="middle">G10</text>
<text x="492.6" y="327.2" text-anchor="middle">G15</text>
<text x="529.1" y="327.2" text-anchor="middle">G20</text>
<text x="565.6" y="327.2" text-anchor="middle">G25</text>
<text x="602.1" y="327.2" text-anchor="middle">G30</text>
<text x="638.7" y="327.2" text-anchor="middle">G40</text>
<text x="675.2" y="327.2" text-anchor="middle">G45</text>
<text x="711.7" y="327.2" text-anchor="middle">G55</text>
<text x="748.3" y="327.2" text-anchor="middle">G65</text>
<text x="784.8" y="327.2" text-anchor="middle">G75</text>
<text x="821.3" y="327.2" text-anchor="middle">G85</text>
<text x="857.9" y="327.2" text-anchor="middle">G100</text>
<text x="377" y="141.3" text-anchor="end" font-size="19">8.4x10<tspan font-size="12.5" dy="-8">19</tspan></text>
<text x="377" y="198.7" text-anchor="end" font-size="19">8.2x10<tspan font-size="12.5" dy="-8">19</tspan></text>
<text x="377" y="256.1" text-anchor="end" font-size="19">8.0x10<tspan font-size="12.5" dy="-8">19</tspan></text>
<text x="377" y="313.5" text-anchor="end" font-size="19">7.8x10<tspan font-size="12.5" dy="-8">19</tspan></text>
<text x="657" y="349" text-anchor="middle" font-size="21.5">Al Component (%)</text>
<text transform="translate(301.5,217) rotate(-90)" text-anchor="middle" font-size="22">Channel eDensity (cm<tspan font-size="15" dy="-9">-3</tspan><tspan dy="9">)</tspan></text>
</g>
</svg>
</body></html>
